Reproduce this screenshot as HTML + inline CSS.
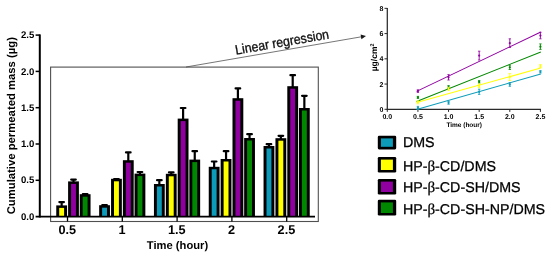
<!DOCTYPE html>
<html lang="en"><head><meta charset="utf-8"><title>Cumulative permeated mass</title>
<style>
html,body{margin:0;padding:0;background:#fff;}
body{width:550px;height:255px;overflow:hidden;}
svg{display:block;}
text{font-family:"Liberation Sans",Arial,sans-serif;fill:#000;text-rendering:geometricPrecision;}
.b{font-weight:bold;}
.s{font-family:"Liberation Serif","DejaVu Serif",serif;}
</style></head><body>
<svg width="550" height="255" viewBox="0 0 550 255">
<rect width="550" height="255" fill="#fff"/>

<rect x="50.6" y="67.1" width="267.7" height="154.4" fill="none" stroke="#505050" stroke-width="1.1"/>
<line x1="186" y1="67" x2="362" y2="36.7" stroke="#484848" stroke-width="0.75"/>
<polygon points="366,36 360.6,34.6 361.4,39.2" fill="#1a1a1a"/>
<text transform="translate(236.0,54.7) rotate(-9.8)" font-size="13.6" textLength="95" lengthAdjust="spacingAndGlyphs" style="fill:#111" stroke="#111" stroke-width="0.35">Linear regression</text>
<line x1="61.65" y1="202.10" x2="61.65" y2="206.40" stroke="#000" stroke-width="2.2"/>
<line x1="59.35" y1="202.10" x2="63.95" y2="202.10" stroke="#000" stroke-width="2.2" stroke-linecap="round"/>
<rect x="56.25" y="205.40" width="10.8" height="11.20" fill="#000"/>
<rect x="59.20" y="207.90" width="4.9" height="8.70" fill="#FFFF00"/>
<line x1="73.50" y1="179.60" x2="73.50" y2="182.40" stroke="#000" stroke-width="2.2"/>
<line x1="71.20" y1="179.60" x2="75.80" y2="179.60" stroke="#000" stroke-width="2.2" stroke-linecap="round"/>
<rect x="68.10" y="181.40" width="10.8" height="35.20" fill="#000"/>
<rect x="71.05" y="183.90" width="4.9" height="32.70" fill="#9000A0"/>
<line x1="85.15" y1="194.20" x2="85.15" y2="195.20" stroke="#000" stroke-width="2.2"/>
<line x1="82.85" y1="194.20" x2="87.45" y2="194.20" stroke="#000" stroke-width="2.2" stroke-linecap="round"/>
<rect x="79.75" y="194.20" width="10.8" height="22.40" fill="#000"/>
<rect x="82.70" y="196.70" width="4.9" height="19.90" fill="#008800"/>
<line x1="104.55" y1="205.20" x2="104.55" y2="206.20" stroke="#000" stroke-width="2.2"/>
<line x1="102.25" y1="205.20" x2="106.85" y2="205.20" stroke="#000" stroke-width="2.2" stroke-linecap="round"/>
<rect x="99.15" y="205.20" width="10.8" height="11.40" fill="#000"/>
<rect x="102.10" y="207.70" width="4.9" height="8.90" fill="#0C9CBA"/>
<line x1="116.45" y1="179.00" x2="116.45" y2="179.80" stroke="#000" stroke-width="2.2"/>
<line x1="114.15" y1="179.00" x2="118.75" y2="179.00" stroke="#000" stroke-width="2.2" stroke-linecap="round"/>
<rect x="111.05" y="178.80" width="10.8" height="37.80" fill="#000"/>
<rect x="114.00" y="181.30" width="4.9" height="35.30" fill="#FFFF00"/>
<line x1="128.30" y1="152.40" x2="128.30" y2="161.20" stroke="#000" stroke-width="2.2"/>
<line x1="126.00" y1="152.40" x2="130.60" y2="152.40" stroke="#000" stroke-width="2.2" stroke-linecap="round"/>
<rect x="122.90" y="160.20" width="10.8" height="56.40" fill="#000"/>
<rect x="125.85" y="162.70" width="4.9" height="53.90" fill="#9000A0"/>
<line x1="139.95" y1="172.00" x2="139.95" y2="174.60" stroke="#000" stroke-width="2.2"/>
<line x1="137.65" y1="172.00" x2="142.25" y2="172.00" stroke="#000" stroke-width="2.2" stroke-linecap="round"/>
<rect x="134.55" y="173.60" width="10.8" height="43.00" fill="#000"/>
<rect x="137.50" y="176.10" width="4.9" height="40.50" fill="#008800"/>
<line x1="159.35" y1="180.20" x2="159.35" y2="185.00" stroke="#000" stroke-width="2.2"/>
<line x1="157.05" y1="180.20" x2="161.65" y2="180.20" stroke="#000" stroke-width="2.2" stroke-linecap="round"/>
<rect x="153.95" y="184.00" width="10.8" height="32.60" fill="#000"/>
<rect x="156.90" y="186.50" width="4.9" height="30.10" fill="#0C9CBA"/>
<line x1="171.25" y1="172.40" x2="171.25" y2="174.80" stroke="#000" stroke-width="2.2"/>
<line x1="168.95" y1="172.40" x2="173.55" y2="172.40" stroke="#000" stroke-width="2.2" stroke-linecap="round"/>
<rect x="165.85" y="173.80" width="10.8" height="42.80" fill="#000"/>
<rect x="168.80" y="176.30" width="4.9" height="40.30" fill="#FFFF00"/>
<line x1="183.10" y1="108.00" x2="183.10" y2="119.60" stroke="#000" stroke-width="2.2"/>
<line x1="180.80" y1="108.00" x2="185.40" y2="108.00" stroke="#000" stroke-width="2.2" stroke-linecap="round"/>
<rect x="177.70" y="118.60" width="10.8" height="98.00" fill="#000"/>
<rect x="180.65" y="121.10" width="4.9" height="95.50" fill="#9000A0"/>
<line x1="194.75" y1="151.20" x2="194.75" y2="160.60" stroke="#000" stroke-width="2.2"/>
<line x1="192.45" y1="151.20" x2="197.05" y2="151.20" stroke="#000" stroke-width="2.2" stroke-linecap="round"/>
<rect x="189.35" y="159.60" width="10.8" height="57.00" fill="#000"/>
<rect x="192.30" y="162.10" width="4.9" height="54.50" fill="#008800"/>
<line x1="214.15" y1="161.50" x2="214.15" y2="167.80" stroke="#000" stroke-width="2.2"/>
<line x1="211.85" y1="161.50" x2="216.45" y2="161.50" stroke="#000" stroke-width="2.2" stroke-linecap="round"/>
<rect x="208.75" y="166.80" width="10.8" height="49.80" fill="#000"/>
<rect x="211.70" y="169.30" width="4.9" height="47.30" fill="#0C9CBA"/>
<line x1="226.05" y1="151.20" x2="226.05" y2="160.00" stroke="#000" stroke-width="2.2"/>
<line x1="223.75" y1="151.20" x2="228.35" y2="151.20" stroke="#000" stroke-width="2.2" stroke-linecap="round"/>
<rect x="220.65" y="159.00" width="10.8" height="57.60" fill="#000"/>
<rect x="223.60" y="161.50" width="4.9" height="55.10" fill="#FFFF00"/>
<line x1="237.90" y1="88.40" x2="237.90" y2="99.20" stroke="#000" stroke-width="2.2"/>
<line x1="235.60" y1="88.40" x2="240.20" y2="88.40" stroke="#000" stroke-width="2.2" stroke-linecap="round"/>
<rect x="232.50" y="98.20" width="10.8" height="118.40" fill="#000"/>
<rect x="235.45" y="100.70" width="4.9" height="115.90" fill="#9000A0"/>
<line x1="249.55" y1="134.20" x2="249.55" y2="139.00" stroke="#000" stroke-width="2.2"/>
<line x1="247.25" y1="134.20" x2="251.85" y2="134.20" stroke="#000" stroke-width="2.2" stroke-linecap="round"/>
<rect x="244.15" y="138.00" width="10.8" height="78.60" fill="#000"/>
<rect x="247.10" y="140.50" width="4.9" height="76.10" fill="#008800"/>
<line x1="268.95" y1="144.20" x2="268.95" y2="147.00" stroke="#000" stroke-width="2.2"/>
<line x1="266.65" y1="144.20" x2="271.25" y2="144.20" stroke="#000" stroke-width="2.2" stroke-linecap="round"/>
<rect x="263.55" y="146.00" width="10.8" height="70.60" fill="#000"/>
<rect x="266.50" y="148.50" width="4.9" height="68.10" fill="#0C9CBA"/>
<line x1="280.85" y1="135.80" x2="280.85" y2="139.20" stroke="#000" stroke-width="2.2"/>
<line x1="278.55" y1="135.80" x2="283.15" y2="135.80" stroke="#000" stroke-width="2.2" stroke-linecap="round"/>
<rect x="275.45" y="138.20" width="10.8" height="78.40" fill="#000"/>
<rect x="278.40" y="140.70" width="4.9" height="75.90" fill="#FFFF00"/>
<line x1="292.70" y1="75.20" x2="292.70" y2="87.20" stroke="#000" stroke-width="2.2"/>
<line x1="290.40" y1="75.20" x2="295.00" y2="75.20" stroke="#000" stroke-width="2.2" stroke-linecap="round"/>
<rect x="287.30" y="86.20" width="10.8" height="130.40" fill="#000"/>
<rect x="290.25" y="88.70" width="4.9" height="127.90" fill="#9000A0"/>
<line x1="304.35" y1="95.80" x2="304.35" y2="109.00" stroke="#000" stroke-width="2.2"/>
<line x1="302.05" y1="95.80" x2="306.65" y2="95.80" stroke="#000" stroke-width="2.2" stroke-linecap="round"/>
<rect x="298.95" y="108.00" width="10.8" height="108.60" fill="#000"/>
<rect x="301.90" y="110.50" width="4.9" height="106.10" fill="#008800"/>
<line x1="39.8" y1="34.4" x2="39.8" y2="217.5" stroke="#000" stroke-width="2"/>
<line x1="35.6" y1="216.7" x2="315" y2="216.7" stroke="#000" stroke-width="1.7"/>
<text class="b" x="34.3" y="219.75" font-size="9.6" text-anchor="end">0.0</text>
<line x1="35.6" y1="180.30" x2="39.8" y2="180.30" stroke="#000" stroke-width="1.5"/>
<text class="b" x="34.3" y="183.45" font-size="9.6" text-anchor="end">0.5</text>
<line x1="35.6" y1="144.00" x2="39.8" y2="144.00" stroke="#000" stroke-width="1.5"/>
<text class="b" x="34.3" y="147.15" font-size="9.6" text-anchor="end">1.0</text>
<line x1="35.6" y1="107.70" x2="39.8" y2="107.70" stroke="#000" stroke-width="1.5"/>
<text class="b" x="34.3" y="110.85" font-size="9.6" text-anchor="end">1.5</text>
<line x1="35.6" y1="71.40" x2="39.8" y2="71.40" stroke="#000" stroke-width="1.5"/>
<text class="b" x="34.3" y="74.55" font-size="9.6" text-anchor="end">2.0</text>
<line x1="35.6" y1="35.10" x2="39.8" y2="35.10" stroke="#000" stroke-width="1.5"/>
<text class="b" x="34.3" y="38.25" font-size="9.6" text-anchor="end">2.5</text>
<line x1="67.50" y1="216.6" x2="67.50" y2="221.4" stroke="#000" stroke-width="1.3"/>
<text class="b" x="67.20" y="233.7" font-size="12.7" text-anchor="middle">0.5</text>
<line x1="122.30" y1="216.6" x2="122.30" y2="221.4" stroke="#000" stroke-width="1.3"/>
<text class="b" x="122.00" y="233.7" font-size="12.7" text-anchor="middle">1</text>
<line x1="177.10" y1="216.6" x2="177.10" y2="221.4" stroke="#000" stroke-width="1.3"/>
<text class="b" x="176.80" y="233.7" font-size="12.7" text-anchor="middle">1.5</text>
<line x1="231.90" y1="216.6" x2="231.90" y2="221.4" stroke="#000" stroke-width="1.3"/>
<text class="b" x="231.60" y="233.7" font-size="12.7" text-anchor="middle">2</text>
<line x1="286.70" y1="216.6" x2="286.70" y2="221.4" stroke="#000" stroke-width="1.3"/>
<text class="b" x="286.40" y="233.7" font-size="12.7" text-anchor="middle">2.5</text>
<text class="b" x="177.5" y="249" font-size="11.2" text-anchor="middle">Time (hour)</text>
<text class="b" transform="translate(14.9,125.7) rotate(-90)" font-size="11.3" text-anchor="middle">Cumulative permeated mass (µg)</text>
<line x1="387.3" y1="7.9" x2="387.3" y2="109.89999999999999" stroke="#2a2a2a" stroke-width="1.25"/>
<line x1="386.7" y1="109.3" x2="540.9" y2="109.3" stroke="#2a2a2a" stroke-width="1.25"/>
<line x1="384.5" y1="109.30" x2="387.3" y2="109.30" stroke="#2a2a2a" stroke-width="1"/>
<text class="b" x="383.30" y="111.80" font-size="7" text-anchor="end">0</text>
<line x1="384.5" y1="84.06" x2="387.3" y2="84.06" stroke="#2a2a2a" stroke-width="1"/>
<text class="b" x="383.30" y="86.56" font-size="7" text-anchor="end">2</text>
<line x1="384.5" y1="58.82" x2="387.3" y2="58.82" stroke="#2a2a2a" stroke-width="1"/>
<text class="b" x="383.30" y="61.32" font-size="7" text-anchor="end">4</text>
<line x1="384.5" y1="33.58" x2="387.3" y2="33.58" stroke="#2a2a2a" stroke-width="1"/>
<text class="b" x="383.30" y="36.08" font-size="7" text-anchor="end">6</text>
<line x1="384.5" y1="8.34" x2="387.3" y2="8.34" stroke="#2a2a2a" stroke-width="1"/>
<text class="b" x="383.30" y="10.84" font-size="7" text-anchor="end">8</text>
<line x1="387.30" y1="109.3" x2="387.30" y2="111.89999999999999" stroke="#2a2a2a" stroke-width="1"/>
<text class="b" x="387.30" y="118.9" font-size="7" text-anchor="middle">0.0</text>
<line x1="417.93" y1="109.3" x2="417.93" y2="111.89999999999999" stroke="#2a2a2a" stroke-width="1"/>
<text class="b" x="417.93" y="118.9" font-size="7" text-anchor="middle">0.5</text>
<line x1="448.55" y1="109.3" x2="448.55" y2="111.89999999999999" stroke="#2a2a2a" stroke-width="1"/>
<text class="b" x="448.55" y="118.9" font-size="7" text-anchor="middle">1.0</text>
<line x1="479.18" y1="109.3" x2="479.18" y2="111.89999999999999" stroke="#2a2a2a" stroke-width="1"/>
<text class="b" x="479.18" y="118.9" font-size="7" text-anchor="middle">1.5</text>
<line x1="509.80" y1="109.3" x2="509.80" y2="111.89999999999999" stroke="#2a2a2a" stroke-width="1"/>
<text class="b" x="509.80" y="118.9" font-size="7" text-anchor="middle">2.0</text>
<line x1="540.42" y1="109.3" x2="540.42" y2="111.89999999999999" stroke="#2a2a2a" stroke-width="1"/>
<text class="b" x="540.42" y="118.9" font-size="7" text-anchor="middle">2.5</text>
<text class="b" x="464.2" y="127" font-size="6.5" text-anchor="middle">Time (hour)</text>
<text class="b" transform="translate(377,57.4) rotate(-90)" font-size="8.5" text-anchor="middle">µg/cm<tspan font-size="5.4" dy="-3.2">2</tspan></text>
<line x1="416.6" y1="91.4" x2="540.8" y2="32.0" stroke="#9000A0" stroke-width="1.05"/>
<line x1="416.6" y1="101.4" x2="540.8" y2="52.0" stroke="#008800" stroke-width="1.05"/>
<line x1="416.6" y1="102.6" x2="540.8" y2="68.0" stroke="#FFFF00" stroke-width="1.05"/>
<line x1="416.6" y1="109.6" x2="540.8" y2="74.0" stroke="#0C9CBA" stroke-width="1.05"/>
<line x1="417.93" y1="89.8" x2="417.93" y2="92.4" stroke="#9000A0" stroke-width="0.9"/>
<line x1="416.73" y1="89.8" x2="419.12" y2="89.8" stroke="#9000A0" stroke-width="0.8"/>
<line x1="416.73" y1="92.4" x2="419.12" y2="92.4" stroke="#9000A0" stroke-width="0.8"/>
<circle cx="417.93" cy="91.10" r="1.1" fill="#9000A0"/>
<line x1="448.55" y1="74.6" x2="448.55" y2="80.0" stroke="#9000A0" stroke-width="0.9"/>
<line x1="447.35" y1="74.6" x2="449.75" y2="74.6" stroke="#9000A0" stroke-width="0.8"/>
<line x1="447.35" y1="80.0" x2="449.75" y2="80.0" stroke="#9000A0" stroke-width="0.8"/>
<circle cx="448.55" cy="77.30" r="1.1" fill="#9000A0"/>
<line x1="479.18" y1="51.2" x2="479.18" y2="60.0" stroke="#9000A0" stroke-width="0.9"/>
<line x1="477.98" y1="51.2" x2="480.38" y2="51.2" stroke="#9000A0" stroke-width="0.8"/>
<line x1="477.98" y1="60.0" x2="480.38" y2="60.0" stroke="#9000A0" stroke-width="0.8"/>
<circle cx="479.18" cy="55.60" r="1.1" fill="#9000A0"/>
<line x1="509.80" y1="38.8" x2="509.80" y2="47.5" stroke="#9000A0" stroke-width="0.9"/>
<line x1="508.60" y1="38.8" x2="511.00" y2="38.8" stroke="#9000A0" stroke-width="0.8"/>
<line x1="508.60" y1="47.5" x2="511.00" y2="47.5" stroke="#9000A0" stroke-width="0.8"/>
<circle cx="509.80" cy="43.15" r="1.1" fill="#9000A0"/>
<line x1="540.42" y1="32.3" x2="540.42" y2="38.8" stroke="#9000A0" stroke-width="0.9"/>
<line x1="539.22" y1="32.3" x2="541.62" y2="32.3" stroke="#9000A0" stroke-width="0.8"/>
<line x1="539.22" y1="38.8" x2="541.62" y2="38.8" stroke="#9000A0" stroke-width="0.8"/>
<circle cx="540.42" cy="35.55" r="1.1" fill="#9000A0"/>
<line x1="417.93" y1="96.4" x2="417.93" y2="98.4" stroke="#008800" stroke-width="0.9"/>
<line x1="416.73" y1="96.4" x2="419.12" y2="96.4" stroke="#008800" stroke-width="0.8"/>
<line x1="416.73" y1="98.4" x2="419.12" y2="98.4" stroke="#008800" stroke-width="0.8"/>
<circle cx="417.93" cy="97.40" r="1.1" fill="#008800"/>
<line x1="448.55" y1="85.6" x2="448.55" y2="88.6" stroke="#008800" stroke-width="0.9"/>
<line x1="447.35" y1="85.6" x2="449.75" y2="85.6" stroke="#008800" stroke-width="0.8"/>
<line x1="447.35" y1="88.6" x2="449.75" y2="88.6" stroke="#008800" stroke-width="0.8"/>
<circle cx="448.55" cy="87.10" r="1.1" fill="#008800"/>
<line x1="479.18" y1="80.6" x2="479.18" y2="83.0" stroke="#008800" stroke-width="0.9"/>
<line x1="477.98" y1="80.6" x2="480.38" y2="80.6" stroke="#008800" stroke-width="0.8"/>
<line x1="477.98" y1="83.0" x2="480.38" y2="83.0" stroke="#008800" stroke-width="0.8"/>
<circle cx="479.18" cy="81.80" r="1.1" fill="#008800"/>
<line x1="509.80" y1="65.2" x2="509.80" y2="69.5" stroke="#008800" stroke-width="0.9"/>
<line x1="508.60" y1="65.2" x2="511.00" y2="65.2" stroke="#008800" stroke-width="0.8"/>
<line x1="508.60" y1="69.5" x2="511.00" y2="69.5" stroke="#008800" stroke-width="0.8"/>
<circle cx="509.80" cy="67.35" r="1.1" fill="#008800"/>
<line x1="540.42" y1="43.9" x2="540.42" y2="49.4" stroke="#008800" stroke-width="0.9"/>
<line x1="539.22" y1="43.9" x2="541.62" y2="43.9" stroke="#008800" stroke-width="0.8"/>
<line x1="539.22" y1="49.4" x2="541.62" y2="49.4" stroke="#008800" stroke-width="0.8"/>
<circle cx="540.42" cy="46.65" r="1.1" fill="#008800"/>
<line x1="417.93" y1="100.8" x2="417.93" y2="103.8" stroke="#FFFF00" stroke-width="0.9"/>
<line x1="416.73" y1="100.8" x2="419.12" y2="100.8" stroke="#FFFF00" stroke-width="0.8"/>
<line x1="416.73" y1="103.8" x2="419.12" y2="103.8" stroke="#FFFF00" stroke-width="0.8"/>
<circle cx="417.93" cy="102.30" r="1.1" fill="#FFFF00"/>
<line x1="448.55" y1="87.4" x2="448.55" y2="90.6" stroke="#FFFF00" stroke-width="0.9"/>
<line x1="447.35" y1="87.4" x2="449.75" y2="87.4" stroke="#FFFF00" stroke-width="0.8"/>
<line x1="447.35" y1="90.6" x2="449.75" y2="90.6" stroke="#FFFF00" stroke-width="0.8"/>
<circle cx="448.55" cy="89.00" r="1.1" fill="#FFFF00"/>
<line x1="479.18" y1="84.0" x2="479.18" y2="87.7" stroke="#FFFF00" stroke-width="0.9"/>
<line x1="477.98" y1="84.0" x2="480.38" y2="84.0" stroke="#FFFF00" stroke-width="0.8"/>
<line x1="477.98" y1="87.7" x2="480.38" y2="87.7" stroke="#FFFF00" stroke-width="0.8"/>
<circle cx="479.18" cy="85.85" r="1.1" fill="#FFFF00"/>
<line x1="509.80" y1="73.6" x2="509.80" y2="80.5" stroke="#FFFF00" stroke-width="0.9"/>
<line x1="508.60" y1="73.6" x2="511.00" y2="73.6" stroke="#FFFF00" stroke-width="0.8"/>
<line x1="508.60" y1="80.5" x2="511.00" y2="80.5" stroke="#FFFF00" stroke-width="0.8"/>
<circle cx="509.80" cy="77.05" r="1.1" fill="#FFFF00"/>
<line x1="540.42" y1="64.6" x2="540.42" y2="67.6" stroke="#FFFF00" stroke-width="0.9"/>
<line x1="539.22" y1="64.6" x2="541.62" y2="64.6" stroke="#FFFF00" stroke-width="0.8"/>
<line x1="539.22" y1="67.6" x2="541.62" y2="67.6" stroke="#FFFF00" stroke-width="0.8"/>
<circle cx="540.42" cy="66.10" r="1.1" fill="#FFFF00"/>
<line x1="417.93" y1="106.4" x2="417.93" y2="109.4" stroke="#0C9CBA" stroke-width="0.9"/>
<line x1="416.73" y1="106.4" x2="419.12" y2="106.4" stroke="#0C9CBA" stroke-width="0.8"/>
<line x1="416.73" y1="109.4" x2="419.12" y2="109.4" stroke="#0C9CBA" stroke-width="0.8"/>
<circle cx="417.93" cy="107.90" r="1.1" fill="#0C9CBA"/>
<line x1="448.55" y1="101.4" x2="448.55" y2="104.2" stroke="#0C9CBA" stroke-width="0.9"/>
<line x1="447.35" y1="101.4" x2="449.75" y2="101.4" stroke="#0C9CBA" stroke-width="0.8"/>
<line x1="447.35" y1="104.2" x2="449.75" y2="104.2" stroke="#0C9CBA" stroke-width="0.8"/>
<circle cx="448.55" cy="102.80" r="1.1" fill="#0C9CBA"/>
<line x1="479.18" y1="89.2" x2="479.18" y2="94.4" stroke="#0C9CBA" stroke-width="0.9"/>
<line x1="477.98" y1="89.2" x2="480.38" y2="89.2" stroke="#0C9CBA" stroke-width="0.8"/>
<line x1="477.98" y1="94.4" x2="480.38" y2="94.4" stroke="#0C9CBA" stroke-width="0.8"/>
<circle cx="479.18" cy="91.80" r="1.1" fill="#0C9CBA"/>
<line x1="509.80" y1="82.6" x2="509.80" y2="86.3" stroke="#0C9CBA" stroke-width="0.9"/>
<line x1="508.60" y1="82.6" x2="511.00" y2="82.6" stroke="#0C9CBA" stroke-width="0.8"/>
<line x1="508.60" y1="86.3" x2="511.00" y2="86.3" stroke="#0C9CBA" stroke-width="0.8"/>
<circle cx="509.80" cy="84.45" r="1.1" fill="#0C9CBA"/>
<line x1="540.42" y1="70.6" x2="540.42" y2="73.0" stroke="#0C9CBA" stroke-width="0.9"/>
<line x1="539.22" y1="70.6" x2="541.62" y2="70.6" stroke="#0C9CBA" stroke-width="0.8"/>
<line x1="539.22" y1="73.0" x2="541.62" y2="73.0" stroke="#0C9CBA" stroke-width="0.8"/>
<circle cx="540.42" cy="71.80" r="1.1" fill="#0C9CBA"/>
<rect x="377.8" y="135.8" width="18.4" height="13.60" rx="1.3" fill="#000"/>
<rect x="380.9" y="138.40" width="12.0" height="8.40" fill="#0C9CBA"/>
<text x="402.9" y="147.4" font-size="14.25" stroke="#000" stroke-width="0.25">DMS</text>
<rect x="377.8" y="157.0" width="18.4" height="15.60" rx="1.3" fill="#000"/>
<rect x="380.9" y="159.60" width="12.0" height="10.40" fill="#FFFF00"/>
<text x="402.9" y="170.6" font-size="14.25" stroke="#000" stroke-width="0.25">HP-<tspan class="s" font-size="15">β</tspan>-CD/DMS</text>
<rect x="377.8" y="179.0" width="18.4" height="15.60" rx="1.3" fill="#000"/>
<rect x="380.9" y="181.60" width="12.0" height="10.40" fill="#9000A0"/>
<text x="402.9" y="192.4" font-size="14.25" stroke="#000" stroke-width="0.25">HP-<tspan class="s" font-size="15">β</tspan>-CD-SH/DMS</text>
<rect x="377.8" y="199.8" width="18.4" height="15.80" rx="1.3" fill="#000"/>
<rect x="380.9" y="202.40" width="12.0" height="10.60" fill="#008800"/>
<text x="402.9" y="213.5" font-size="14.25" stroke="#000" stroke-width="0.25">HP-<tspan class="s" font-size="15">β</tspan>-CD-SH-NP/DMS</text>
</svg></body></html>
